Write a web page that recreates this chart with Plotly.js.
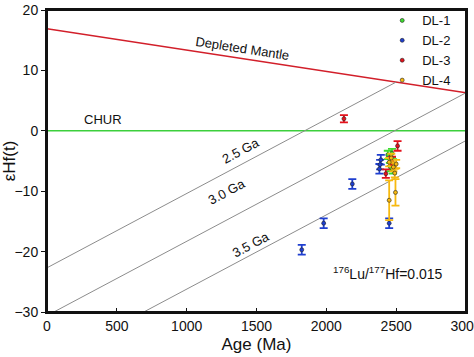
<!DOCTYPE html>
<html>
<head>
<meta charset="utf-8">
<script src="https://cdn.plot.ly/plotly-3.0.1.min.js"></script>
<style>html,body{margin:0;padding:0;background:#fff;overflow:hidden;}#chart{width:474px;height:357px;}</style>
</head>
<body>
<div id="chart"></div>
<script>
// Depleted mantle reference (age Ma, εHf)
const dmAge = [0, 3000];
const dmEps = [16.9, 6.3];
// CHUR
const churAge = [0, 3000];
const churEps = [0, 0];
// crustal evolution lines (model ages, Ma) with 176Lu/177Hf = 0.015
const modelAges = [2500, 3000, 3500];
const modelLabels = ["2.5 Ga", "3.0 Ga", "3.5 Ga"];
const crustSlope = 0.0123; // εHf units per Ma

// Samples
const dl1Age = [2440, 2455, 2462, 2470, 2478, 2475, 2458];
const dl1Eps = [-4.0, -4.6, -5.1, -3.7, -5.4, -6.4, -6.0];
const dl1Err = [0.7, 0.7, 0.7, 0.7, 0.7, 0.7, 0.7];

const dl2Age = [1824, 1981, 2186, 2390, 2385, 2380, 2450];
const dl2Eps = [-19.7, -15.3, -8.8, -4.8, -5.6, -6.3, -15.3];
const dl2Err = [0.8, 0.8, 0.8, 0.8, 0.8, 0.8, 0.8];

const dl3Age = [2126, 2510, 2426, 2470];
const dl3Eps = [2.0, -2.5, -7.1, -5.0];
const dl3Err = [0.6, 0.8, 0.7, 0.7];

const dl4Age = [2450, 2465, 2480, 2490, 2500, 2495, 2450];
const dl4Eps = [-5.2, -4.5, -6.0, -7.0, -5.5, -10.2, -11.5];
const dl4Err = [0.7, 0.7, 0.7, 0.7, 0.7, 2.2, 3.3];

function dmAt(t) {
  return dmEps[0] + (dmEps[1] - dmEps[0]) * (t - dmAge[0]) / (dmAge[1] - dmAge[0]);
}

const traces = [];
traces.push({x: dmAge, y: dmEps, mode: 'lines', line: {color: '#d21f2a', width: 1.5}, showlegend: false, hoverinfo: 'skip'});
traces.push({x: churAge, y: churEps, mode: 'lines', line: {color: '#3ccf3c', width: 1.5}, showlegend: false, hoverinfo: 'skip'});
modelAges.forEach(function (T) {
  traces.push({x: [0, T], y: [dmAt(T) - crustSlope * T, dmAt(T)], mode: 'lines',
    line: {color: '#8c8c8c', width: 1}, showlegend: false, hoverinfo: 'skip'});
});

function sample(name, ages, eps, err, color) {
  return {x: ages, y: eps, name: name, mode: 'markers', type: 'scatter',
    marker: {color: color, size: 4, line: {color: '#222', width: 0.6}},
    error_y: {type: 'data', array: err, visible: true, color: color, thickness: 1.8, width: 4}};
}
traces.push(sample('DL-1', dl1Age, dl1Eps, dl1Err, '#3ddc2e'));
traces.push(sample('DL-2', dl2Age, dl2Eps, dl2Err, '#1f3fd0'));
traces.push(sample('DL-3', dl3Age, dl3Eps, dl3Err, '#e3121c'));
traces.push(sample('DL-4', dl4Age, dl4Eps, dl4Err, '#f7b90f'));

const font = {family: 'Liberation Sans, Arial, sans-serif', color: '#111'};

const annotations = [
  {x: 1400, y: dmAt(1400) + 1.6, text: 'Depleted Mantle', showarrow: false, textangle: 8.8, font: Object.assign({size: 13}, font)},
  {x: 400, y: 1.8, text: 'CHUR', showarrow: false, font: Object.assign({size: 13}, font)},
  {x: 1390, y: -3.3, text: modelLabels[0], showarrow: false, textangle: -28, font: Object.assign({size: 13}, font)},
  {x: 1290, y: -10.1, text: modelLabels[1], showarrow: false, textangle: -28, font: Object.assign({size: 13}, font)},
  {x: 1460, y: -18.8, text: modelLabels[2], showarrow: false, textangle: -28, font: Object.assign({size: 13}, font)},
  {x: 2440, y: -23.6, text: '<sup>176</sup>Lu/<sup>177</sup>Hf=0.015', showarrow: false, font: Object.assign({size: 14}, font)}
];

const layout = {
  width: 474, height: 357,
  margin: {l: 47, r: 8, t: 5, b: 45},
  paper_bgcolor: '#fff', plot_bgcolor: '#fff',
  font: font,
  showlegend: true,
  legend: {x: 0.8, y: 1.015, xanchor: 'left', yanchor: 'top', bgcolor: 'rgba(0,0,0,0)',
    font: Object.assign({size: 13}, font), itemwidth: 30, tracegroupgap: 0},
  xaxis: {range: [0, 3000], dtick: 500, tick0: 0, ticks: 'inside', ticklen: 4, tickcolor: '#111',
    showline: true, linecolor: '#111', linewidth: 2, mirror: true, showgrid: false, zeroline: false,
    ticklabeloverflow: 'allow',
    tickfont: Object.assign({size: 14}, font),
    title: {text: 'Age (Ma)', font: Object.assign({size: 17}, font), standoff: 5}},
  yaxis: {range: [-30, 20], dtick: 10, tick0: 0, ticks: 'outside', ticklen: 4, tickcolor: '#111',
    showline: true, linecolor: '#111', linewidth: 2, mirror: true, showgrid: false, zeroline: false,
    tickfont: Object.assign({size: 14}, font),
    title: {text: 'εHf(t)', font: Object.assign({size: 17}, font), standoff: 3}},
  shapes: [{type: 'rect', xref: 'paper', yref: 'paper', x0: 0, x1: 1, y0: 0, y1: 1,
    line: {color: '#111', width: 2}, layer: 'above'}],
  annotations: annotations
};

Plotly.newPlot('chart', traces, layout, {displayModeBar: false, staticPlot: true});
</script>
</body>
</html>
